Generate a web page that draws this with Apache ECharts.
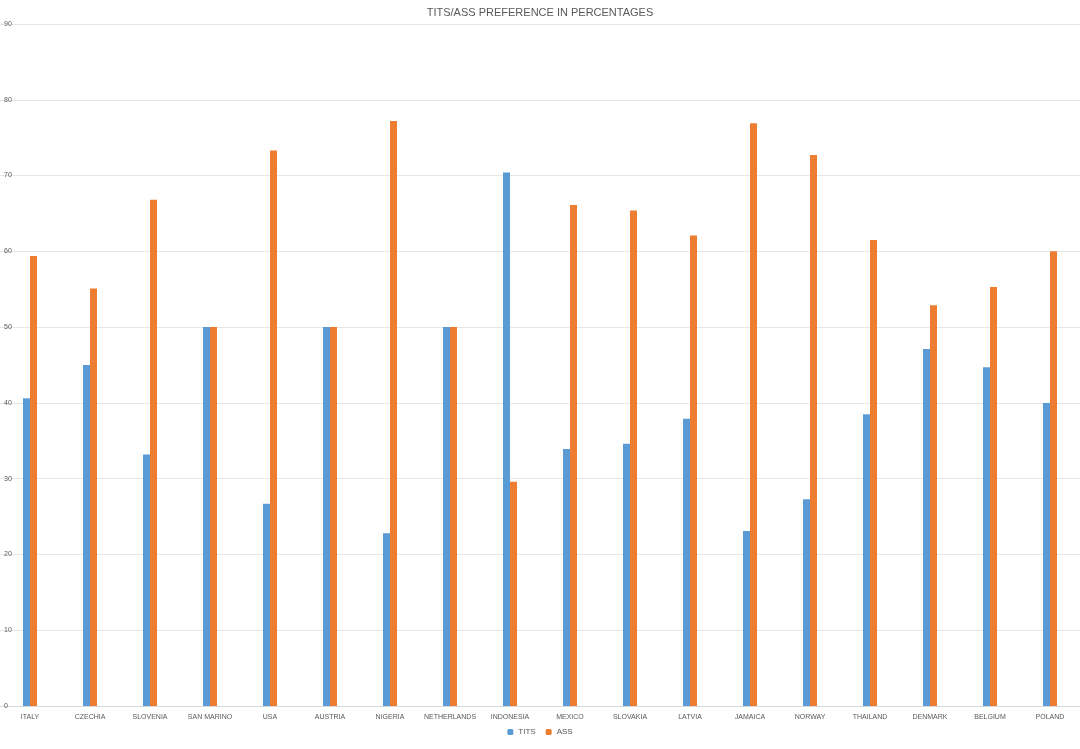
<!DOCTYPE html>
<html>
<head>
<meta charset="utf-8">
<script src="https://cdn.jsdelivr.net/npm/echarts@6/dist/echarts.min.js"></script>
<style>html,body{margin:0;padding:0;background:#fff;overflow:hidden}#chart{width:1080px;height:749px}</style>
</head>
<body>
<div id="chart"></div>
<script>
var countries = ['ITALY','CZECHIA','SLOVENIA','SAN MARINO','USA','AUSTRIA','NIGERIA','NETHERLANDS','INDONESIA',
                 'MEXICO','SLOVAKIA','LATVIA','JAMAICA','NORWAY','THAILAND','DENMARK','BELGIUM','POLAND'];
var tits = [40.6,45,33.2,50,26.7,50,22.8,50,70.4,33.9,34.6,37.9,23.1,27.3,38.5,47.1,44.7,40];
var ass  = [59.4,55.1,66.8,50,73.3,50,77.2,50,29.6,66.1,65.4,62.1,76.9,72.7,61.5,52.9,55.3,60];

var chart = echarts.init(document.getElementById('chart'));
var option = {
    title: {
        text: 'TITS/ASS PREFERENCE IN PERCENTAGES',
        left: 'center', top: 2,
        textStyle: {fontSize: 11, fontWeight: 'normal', color: '#595959', fontFamily: 'Liberation Sans'}
    },
    legend: {
        bottom: 8, itemWidth: 6, itemHeight: 6, itemGap: 10,
        textStyle: {fontSize: 8, color: '#595959'},
        data: ['TITS', 'ASS']
    },
    grid: {left: 0, right: -5, top: 24, bottom: 43},
    xAxis: {
        type: 'category', data: countries,
        axisTick: {show: false},
        axisLine: {lineStyle: {color: '#d9d9d9'}},
        axisLabel: {fontSize: 7, color: '#595959', interval: 0}
    },
    yAxis: {
        type: 'value', min: 0, max: 90, interval: 10,
        axisLabel: {fontSize: 7, color: '#595959', inside: true, margin: 4},
        splitLine: {lineStyle: {color: '#e6e6e6'}}
    },
    series: [
        {name: 'TITS', type: 'bar', data: tits, barWidth: 7, barGap: '0%', itemStyle: {color: '#5B9BD5'}},
        {name: 'ASS', type: 'bar', data: ass, barWidth: 7, itemStyle: {color: '#ED7D31'}}
    ]
};
chart.setOption(option);
</script>
</body>
</html>
